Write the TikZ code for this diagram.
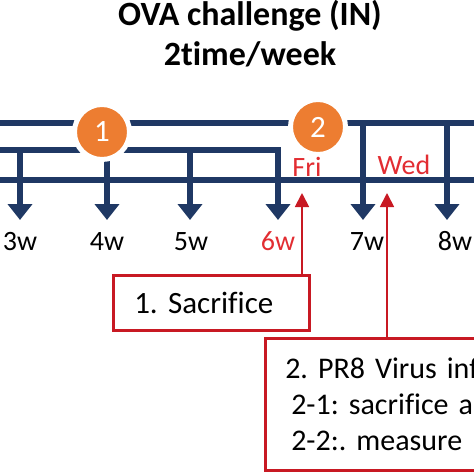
\documentclass[tikz,border=0pt]{standalone}
\usepackage{fontspec}
\setmainfont{Carlito}[Ligatures=NoCommon]
\usetikzlibrary{arrows.meta}

\definecolor{navy}{RGB}{31,56,100}
\definecolor{tangerine}{RGB}{237,125,49}
\definecolor{redtxt}{RGB}{226,45,50}
\definecolor{darkred}{RGB}{200,25,35}

\tikzset{
  title/.style={anchor=base, font=\bfseries\fontsize{34}{34}\selectfont},
  timeline/.style={navy, line width=6pt},
  weekarrow/.style={navy, line width=6pt, -{Triangle[width=24pt,length=16pt]}},
  stage/.style={circle, fill=tangerine, draw=white, line width=5pt, minimum size=55pt,
    inner sep=0pt, text=white, font=\fontsize{31}{31}\selectfont},
  weeklabel/.style={anchor=base, font=\fontsize{28}{28}\selectfont},
  daylabel/.style={anchor=base, text=redtxt, font=\fontsize{28}{28}\selectfont},
  outcome/.style={draw=darkred, line width=2.5pt, anchor=north west, align=left,
    font=\fontsize{31}{35}\selectfont},
  marker/.style={darkred, line width=1.8pt, -{Triangle[width=14pt,length=14pt]}}
}

\begin{document}
\frenchspacing
\begin{tikzpicture}[x=1pt, y=-1pt]
  \useasboundingbox (0,0) rectangle (474,474);
  \clip (0,0) rectangle (474,474);

  \node[title] (ova) at (250,25) {OVA challenge (IN)};
  \node[title] (freq) at (250,65) {2time/week};

  \coordinate (a0) at (0,123);
  \coordinate (a1) at (474,123);
  \coordinate (b0) at (0,150);
  \coordinate (c0) at (0,180);
  \coordinate (c1) at (474,180);
  \foreach \n/\x in {3/20,4/107,5/190,6/278,7/363,8/447}
    \coordinate (t\n) at (\x,220);

  \draw[timeline] (a0) -- (a1);
  \draw[timeline] (c0) -- (c1);
  \draw[weekarrow] (b0) -| (t6);
  \foreach \n in {3,4,5}
    \draw[weekarrow] (t\n |- b0) -- (t\n);
  \foreach \n in {7,8}
    \draw[weekarrow] (t\n |- a0) -- (t\n);

  \node[stage] (s1) at (102,132) {1};
  \node[stage] (s2) at (318,127) {2};

  \foreach \n/\x in {3/20,4/107,5/191,7/367,8/455}
    \node[weeklabel] (w\n) at (\x,250) {\n w};
  \node[weeklabel, text=redtxt] (w6) at (278,250) {6w};

  \node[daylabel] (fri) at (307,176) {Fri};
  \node[daylabel] (wed) at (404,174) {Wed};

  \node[outcome, inner xsep=21pt, text width=154pt, minimum height=55pt] (sac) at (112,274) {1. Sacrifice};
  \node[outcome, inner xsep=20pt, text width=300pt, minimum height=132pt,
    font=\fontsize{30}{36}\selectfont] (virus) at (264,337)
    {2. PR8 Virus inf\\\hspace*{6pt}2-1: sacrifice a\\\hspace*{6pt}2-2:. measure};

  \coordinate (m1) at (302,193);
  \coordinate (m2) at (387,193);
  \draw[marker] (sac.north -| m1) -- (m1);
  \draw[marker] (virus.north -| m2) -- (m2);
\end{tikzpicture}
\end{document}
